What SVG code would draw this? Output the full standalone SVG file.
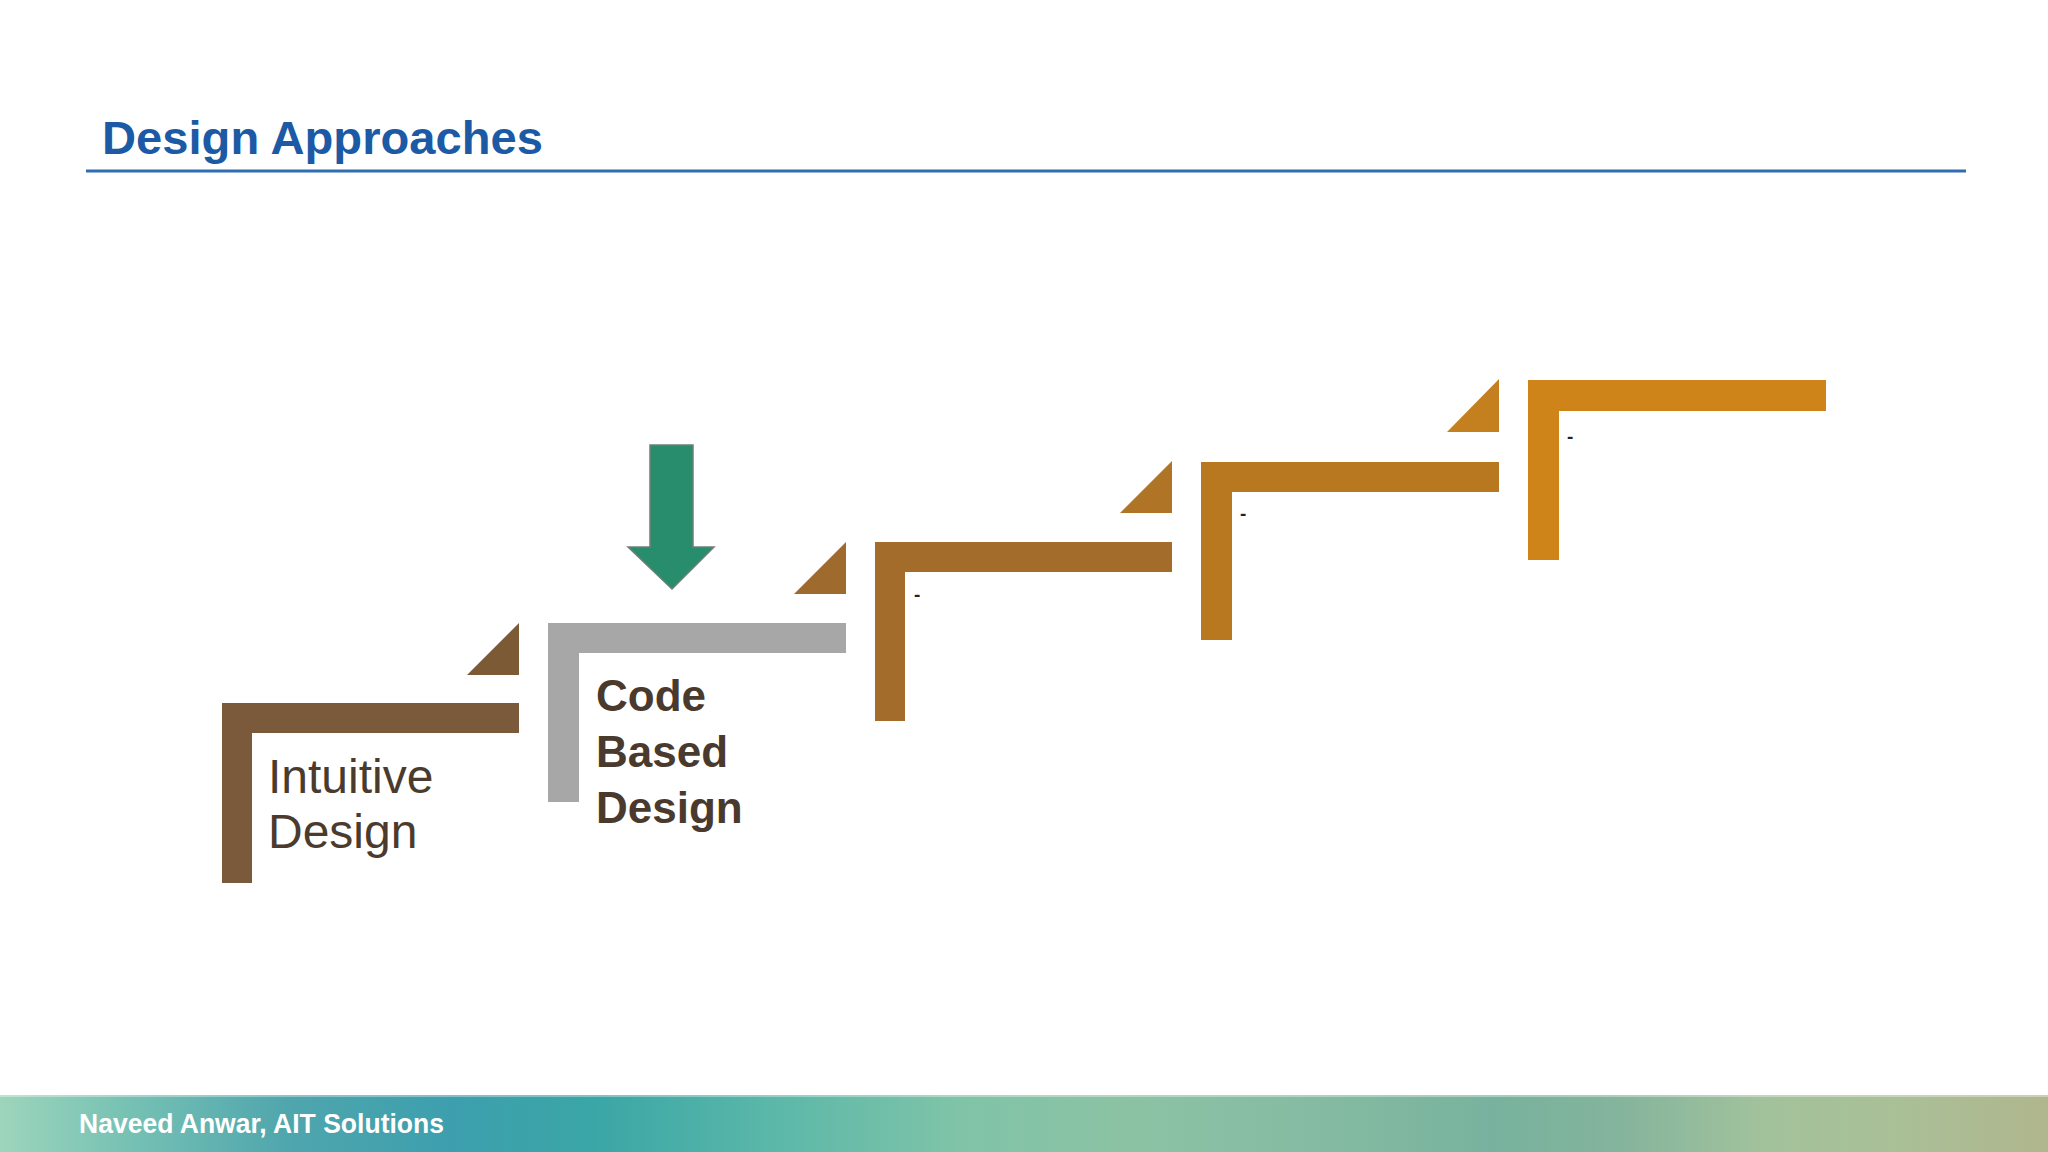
<svg xmlns="http://www.w3.org/2000/svg" width="2048" height="1152" viewBox="0 0 2048 1152">
<defs>
<style>
.title{font-family:"Liberation Sans",Arial,sans-serif;font-weight:bold;font-size:46px;fill:#1c5aa5}
.lbl{font-family:"Liberation Sans",Arial,sans-serif;font-size:48px;fill:#4b3b2e}
.lblb{font-family:"Liberation Sans",Arial,sans-serif;font-weight:bold;font-size:44px;fill:#4a3a2d}
.dash{font-family:"Liberation Sans",Arial,sans-serif;font-weight:bold;font-size:19px;fill:#222}
.foot{font-family:"Liberation Sans",Arial,sans-serif;font-weight:bold;font-size:28px;fill:#ffffff}
</style>
<linearGradient id="band" x1="0" y1="0" x2="1" y2="0">
<stop offset="0" stop-color="#9dd5bb"/>
<stop offset="0.06" stop-color="#78c2b4"/>
<stop offset="0.14" stop-color="#4fa6ad"/>
<stop offset="0.22" stop-color="#3d9fae"/>
<stop offset="0.29" stop-color="#3aa6a6"/>
<stop offset="0.38" stop-color="#5cb8a9"/>
<stop offset="0.47" stop-color="#80c4a8"/>
<stop offset="0.55" stop-color="#8cc2a4"/>
<stop offset="0.64" stop-color="#85bba2"/>
<stop offset="0.73" stop-color="#78b29e"/>
<stop offset="0.79" stop-color="#84b49c"/>
<stop offset="0.86" stop-color="#a2c29c"/>
<stop offset="0.93" stop-color="#aabf96"/>
<stop offset="1" stop-color="#b0b68e"/>
</linearGradient>
</defs>
<rect width="2048" height="1152" fill="#ffffff"/>

<g id="header">
<text class="title" x="102" y="154" textLength="441" lengthAdjust="spacingAndGlyphs">Design Approaches</text>
<rect x="86" y="169.5" width="1880" height="3" fill="#2f6db3"/>
</g>

<g id="step1">
<path d="M222 703 H519 V733 H252 V883 H222 Z" fill="#7a5a3a"/>
<path d="M467 675 L519 623 V675 Z" fill="#7d5a36"/>
<text class="lbl" x="268" y="793">Intuitive</text>
<text class="lbl" x="268" y="848">Design</text>
</g>

<g id="step2">
<path d="M548 623 H846 V653 H579 V802 H548 Z" fill="#a7a7a7"/>
<path d="M794 594 L846 542 V594 Z" fill="#9f6a2e"/>
<text class="lblb" x="596" y="711">Code</text>
<text class="lblb" x="596" y="767">Based</text>
<text class="lblb" x="596" y="823">Design</text>
</g>

<g id="step3">
<path d="M875 542 H1172 V572 H905 V721 H875 Z" fill="#a46c2b"/>
<path d="M1120 513 L1172 461 V513 Z" fill="#b07426"/>
<text class="dash" x="914" y="601">-</text>
</g>

<g id="step4">
<path d="M1201 462 H1499 V492 H1232 V640 H1201 Z" fill="#b8781f"/>
<path d="M1447 432 L1499 379 V432 Z" fill="#c47f1f"/>
<text class="dash" x="1240" y="520">-</text>
</g>

<g id="step5">
<path d="M1528 380 H1826 V411 H1559 V560 H1528 Z" fill="#cf8419"/>
<text class="dash" x="1567" y="443">-</text>
</g>

<g id="connectors">
<path d="M650 445 H693 V547 H714 L672 589 L628 547 H650 Z" fill="#278d6d" stroke="#6f7f78" stroke-width="1.5"/>
</g>

<g id="footer">
<rect x="0" y="1095" width="2048" height="57" fill="url(#band)"/>
<rect x="0" y="1095" width="2048" height="2" fill="#ffffff" opacity="0.35"/>
<text class="foot" x="79" y="1133" textLength="365" lengthAdjust="spacingAndGlyphs">Naveed Anwar, AIT Solutions</text>
</g>
</svg>
